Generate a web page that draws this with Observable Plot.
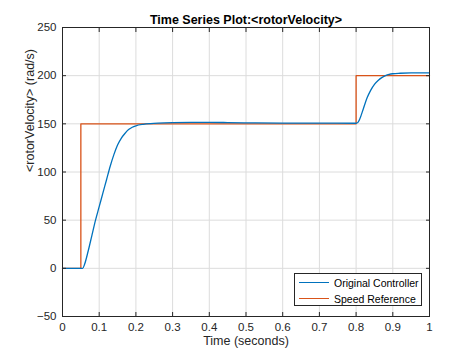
<!DOCTYPE html>
<html><head><meta charset="utf-8">
<script src="https://cdn.jsdelivr.net/npm/d3@7"></script>
<script src="https://cdn.jsdelivr.net/npm/@observablehq/plot@0.6"></script>
<style>
body{margin:0;background:#fff;font-family:"Liberation Sans",Arial,sans-serif;}
#wrap{position:relative;width:474px;height:355px;}
#legend{position:absolute;left:294px;top:273px;width:128px;height:33px;border:1px solid #262626;background:#fff;font-size:10.5px;color:#000;box-sizing:border-box;}
#legend div{display:flex;align-items:center;height:15px;margin-top:1px;}
#legend span.l{display:inline-block;width:30px;height:0;border-top:1.3px solid;margin:0 5px 0 4px;}
.ylab{font-size:12.5px;}
</style></head>
<body><div id="wrap"></div>
<script>
const title = "Time Series Plot:<rotorVelocity>";
const xLabel = "Time (seconds)";
const yLabel = "<rotorVelocity> (rad/s)";
const xTicks = [0,0.1,0.2,0.3,0.4,0.5,0.6,0.7,0.8,0.9,1];
const yTicks = [-50,0,50,100,150,200,250];
const seriesNames = ["Original Controller","Speed Reference"];
const seriesColors = ["#0072BD","#D95319"];
// Original Controller
const ctrlTime = [0,0.05,0.055,0.06,0.07,0.08,0.09,0.10,0.11,0.12,0.13,0.14,0.15,0.16,0.17,0.18,0.19,0.20,0.22,0.24,0.26,0.30,0.35,0.40,0.45,0.50,0.60,0.70,0.80,0.805,0.81,0.82,0.83,0.84,0.85,0.86,0.87,0.88,0.89,0.90,0.92,0.95,1.0];
const ctrlValue = [0,0,0,4,18,34,50,64,78,92,106,118,128,135,140,144,146.5,148,149.5,150.3,150.8,151.3,151.5,151.5,151.3,151,150.8,150.7,150.6,151.5,155,166,177,185,191,195,198,200,201.3,202,202.5,202.8,202.8];
// Speed Reference
const refTime = [0,0.05,0.05,0.8,0.8,1];
const refValue = [0,0,150,150,200,200];

const ctrl = ctrlTime.map((t,i)=>({t, v: ctrlValue[i]}));
const ref = refTime.map((t,i)=>({t, v: refValue[i]}));
const noText = () => "";

const chart = Plot.plot({
  width: 474, height: 355,
  marginLeft: 62, marginRight: 45, marginTop: 27, marginBottom: 39,
  style: {fontFamily: '"Liberation Sans", Arial, sans-serif', fontSize: "11px", color: "#262626", background: "#fff"},
  x: {domain: [0,1]},
  y: {domain: [-50,250]},
  marks: [
    Plot.gridX(xTicks, {stroke: "#dcdcdc", strokeOpacity: 1}),
    Plot.gridY(yTicks, {stroke: "#dcdcdc", strokeOpacity: 1}),
    Plot.line(ref, {x: "t", y: "v", stroke: seriesColors[1], strokeWidth: 1.3}),
    Plot.line(ctrl, {x: "t", y: "v", stroke: seriesColors[0], strokeWidth: 1.3, curve: "monotone-x"}),
    Plot.frame({stroke: "#262626", strokeWidth: 1}),
    Plot.axisX(xTicks, {anchor: "bottom", tickSize: -4, tickPadding: 10, tickFormat: d => String(d), label: null, fontSize: 11.5}),
    Plot.axisX(xTicks, {anchor: "top", tickSize: -4, tickFormat: noText, label: null}),
    Plot.axisY(yTicks, {anchor: "left", tickSize: -4, tickPadding: 10, label: null, fontSize: 11.5}),
    Plot.axisY(yTicks, {anchor: "right", tickSize: -4, tickFormat: noText, label: null}),
    Plot.text([xLabel], {frameAnchor: "bottom", dy: 28, fontSize: 12.5, fill: "#262626"}),
    Plot.text([yLabel], {frameAnchor: "left", dx: -33, rotate: -90, fontSize: 12.5, fill: "#262626"}),
    Plot.text([title], {frameAnchor: "top", dy: -12, fontWeight: "bold", fontSize: 12.5, fill: "#000"})
  ]
});
document.getElementById("wrap").appendChild(chart);
const lg = document.createElement("div");
lg.id = "legend";
lg.innerHTML = seriesNames.map((n,i)=>`<div><span class="l" style="border-color:${seriesColors[i]}"></span>${n}</div>`).join("");
document.getElementById("wrap").appendChild(lg);
</script></body></html>
